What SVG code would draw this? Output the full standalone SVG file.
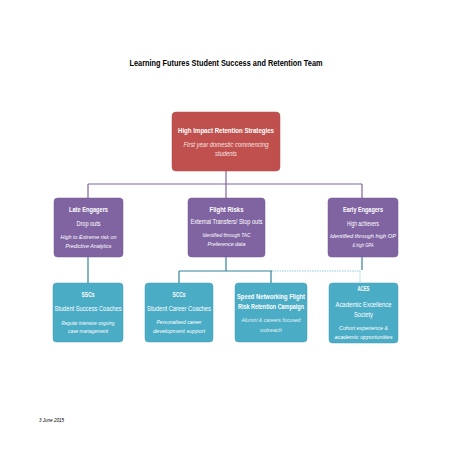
<svg xmlns="http://www.w3.org/2000/svg" width="453" height="453" viewBox="0 0 453 453">
<style>
text{font-family:"Liberation Sans",Arial,sans-serif;text-anchor:middle;fill:#fff;font-size:6.4px}
.b{font-weight:bold;font-size:6.6px}
.i{font-style:italic;font-size:6px}
.r{fill:#c0504d;stroke:#b24a47;stroke-width:0.5}
.p{fill:#8064a2;stroke:#735a92;stroke-width:0.5}
.t{fill:#4bacc6;stroke:#449cb4;stroke-width:0.5}
.lp{stroke:#8064a2;stroke-width:1.2;fill:none}
.lt{stroke:#31849b;stroke-width:1.2;fill:none}
.ld{stroke:#92cddc;stroke-width:1;fill:none;stroke-dasharray:1.5 1}
</style>
<rect width="453" height="453" fill="#fff"/>
<text x="226" y="66" class="b" style="fill:#000;font-size:9px" textLength="193" lengthAdjust="spacingAndGlyphs">Learning Futures Student Success and Retention Team</text>

<g id="connectors">
<path class="lp" d="M226,171V184M88,184H362M88,184V198M226,184V198M362,184V198"/>
<path class="lt" d="M88,257V283M226,257V271M179,271H272M179,271V283M271,271V283M362,257V270"/>
<path class="ld" d="M272,271H360V283"/>
</g>

<g id="strategies">
<rect class="r" x="172" y="112" width="108" height="59" rx="4"/>
<text x="226" y="133" class="b" style="font-size:7.4px" textLength="96" lengthAdjust="spacingAndGlyphs">High Impact Retention Strategies</text>
<text x="226" y="147" class="i" style="fill:#f6e2e1;font-size:6.6px" textLength="85" lengthAdjust="spacingAndGlyphs">First year domestic commencing</text>
<text x="226" y="156" class="i" style="fill:#f6e2e1;font-size:6.6px" textLength="22" lengthAdjust="spacingAndGlyphs">students</text>
</g>

<g id="late">
<rect class="p" x="54" y="198" width="69" height="59" rx="3.5"/>
<text x="88.5" y="212" class="b" textLength="39" lengthAdjust="spacingAndGlyphs">Late Engagers</text>
<text x="88.5" y="226" textLength="24" lengthAdjust="spacingAndGlyphs">Drop outs</text>
<text x="88.5" y="239" class="i" textLength="56" lengthAdjust="spacingAndGlyphs">High to Extreme risk on</text>
<text x="88.5" y="248" class="i" textLength="46" lengthAdjust="spacingAndGlyphs">Predictive Analytics</text>
</g>

<g id="flight">
<rect class="p" x="188" y="198" width="77" height="59" rx="3.5"/>
<text x="226.5" y="212" class="b" textLength="34" lengthAdjust="spacingAndGlyphs">Flight Risks</text>
<text x="226.5" y="224" textLength="72" lengthAdjust="spacingAndGlyphs">External Transfers/ Stop outs</text>
<text x="226.5" y="237" class="i" textLength="48" lengthAdjust="spacingAndGlyphs">Identified through TAC</text>
<text x="226.5" y="246" class="i" textLength="38" lengthAdjust="spacingAndGlyphs">Preference data</text>
</g>

<g id="early">
<rect class="p" x="328" y="198" width="70" height="59" rx="3.5"/>
<text x="363" y="212" class="b" textLength="40" lengthAdjust="spacingAndGlyphs">Early Engagers</text>
<text x="363" y="226" textLength="32" lengthAdjust="spacingAndGlyphs">High achievers</text>
<text x="363" y="238" class="i" textLength="66" lengthAdjust="spacingAndGlyphs">Identified through high OP</text>
<text x="363" y="247" class="i" textLength="21" lengthAdjust="spacingAndGlyphs">&amp; high GPA</text>
</g>

<g id="sscs">
<rect class="t" x="53" y="283" width="70" height="59" rx="3.5"/>
<text x="88" y="297" class="b" textLength="13" lengthAdjust="spacingAndGlyphs">SSCs</text>
<text x="88" y="311" style="font-size:6.6px" textLength="67" lengthAdjust="spacingAndGlyphs">Student  Success Coaches</text>
<text x="88" y="325" class="i" textLength="53" lengthAdjust="spacingAndGlyphs">Regular intensive ongoing</text>
<text x="88" y="333" class="i" textLength="40" lengthAdjust="spacingAndGlyphs">case management</text>
</g>

<g id="sccs">
<rect class="t" x="145" y="283" width="68" height="59" rx="3.5"/>
<text x="179" y="297" class="b" textLength="13" lengthAdjust="spacingAndGlyphs">SCCs</text>
<text x="179" y="311" style="font-size:6.6px" textLength="64" lengthAdjust="spacingAndGlyphs">Student  Career Coaches</text>
<text x="179" y="324" class="i" textLength="45" lengthAdjust="spacingAndGlyphs">Personalised career</text>
<text x="179" y="333" class="i" textLength="52" lengthAdjust="spacingAndGlyphs">development support</text>
</g>

<g id="speed">
<rect class="t" x="235" y="283" width="72" height="59" rx="3.5"/>
<text x="271" y="299" class="b" textLength="68" lengthAdjust="spacingAndGlyphs">Speed Networking Flight</text>
<text x="271" y="309" class="b" textLength="66" lengthAdjust="spacingAndGlyphs">Risk Retention Campaign</text>
<text x="271" y="322" class="i" style="fill:#e4f3f7" textLength="59" lengthAdjust="spacingAndGlyphs">Alumni &amp; careers focused</text>
<text x="271" y="332" class="i" style="fill:#e4f3f7" textLength="22" lengthAdjust="spacingAndGlyphs">outreach</text>
</g>

<g id="aces">
<rect class="t" x="329" y="283" width="69" height="60" rx="3.5"/>
<text x="363.5" y="291" class="b" textLength="12" lengthAdjust="spacingAndGlyphs">ACES</text>
<text x="363.5" y="307" style="font-size:6.8px" textLength="56" lengthAdjust="spacingAndGlyphs">Academic Excellence</text>
<text x="363.5" y="317" style="font-size:6.8px" textLength="19" lengthAdjust="spacingAndGlyphs">Society</text>
<text x="363.5" y="330" class="i" textLength="49" lengthAdjust="spacingAndGlyphs">Cohort experience &amp;</text>
<text x="363.5" y="339" class="i" textLength="58" lengthAdjust="spacingAndGlyphs">academic opportunities</text>
</g>

<text x="39" y="422" class="i" style="fill:#000;text-anchor:start;font-size:5.5px" textLength="25" lengthAdjust="spacingAndGlyphs">3 June 2015</text>
</svg>
